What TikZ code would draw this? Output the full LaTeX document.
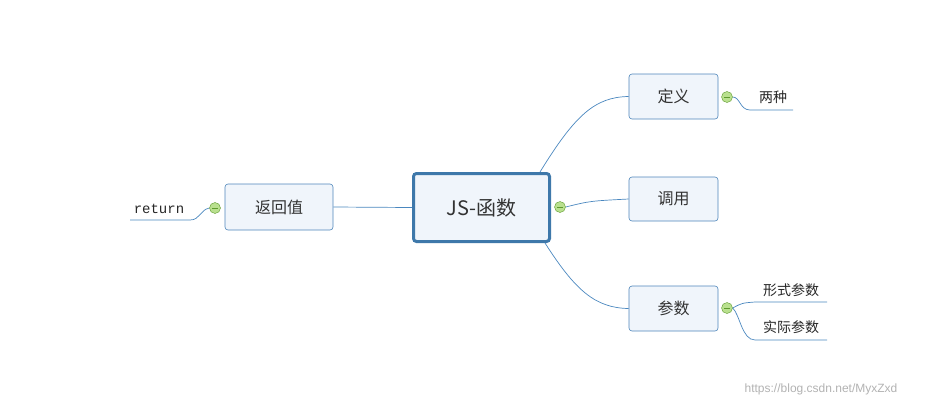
\documentclass[tikz,border=0pt]{standalone}
\usepackage{fontspec}
\setmainfont{Noto Sans CJK SC}
\newfontfamily\monof{Liberation Mono}
\newfontfamily\wmf{Liberation Sans}
\definecolor{bord}{HTML}{4F86BA}
\definecolor{cbord}{HTML}{3E78AA}
\definecolor{bfill}{HTML}{F0F5FB}
\definecolor{lnk}{HTML}{4A87BF}
\definecolor{mg}{HTML}{5E9A2E}
\definecolor{mf}{HTML}{B9E08E}
\begin{document}
\begin{tikzpicture}[x=1pt,y=-1pt,
  box/.style={draw=bord,fill=bfill,rounded corners=3pt,line width=0.6pt,font=\fontsize{16}{18}\selectfont,text=black!80},
  link/.style={draw=lnk,line width=0.7pt},
  minus/.style={circle,draw=mg,fill=mf,inner sep=0pt,minimum size=11pt,path picture={\draw[line width=0.7pt] ([xshift=-3pt]path picture bounding box.center)--([xshift=3pt]path picture bounding box.center);}},
  leaf/.style={font=\fontsize{14}{16}\selectfont,text=black!85}]
\useasboundingbox (0,0) rectangle (925,410);
\node[box,draw=cbord,line width=3pt,minimum width=136pt,minimum height=68pt,font=\fontsize{20}{22}\selectfont] (c) at (481.5,207.5) {JS-函数};
\node[box,minimum width=89pt,minimum height=45pt] (d) at (673.5,96.5) {定义};
\node[box,minimum width=89pt,minimum height=44pt] (u) at (673.5,199) {调用};
\node[box,minimum width=89pt,minimum height=45pt] (p) at (673.5,308.5) {参数};
\node[box,minimum width=108pt,minimum height=46pt] (r) at (279,207) {返回值};
\node[minus] (mc) at (560,207) {};
\node[minus] (md) at (727,97) {};
\node[minus] (mp) at (727,308) {};
\node[minus] (mr) at (215,208) {};
\coordinate (ct) at (540,172);
\coordinate (cb) at (545,243);
\draw[link] (ct) .. controls (575,115) and (595,97) .. (d.west);
\draw[link] (mc.east) .. controls (590,201) .. (u.west);
\draw[link] (cb) .. controls (575,290) and (595,308) .. (p.west);
\draw[link] (r.east) -- (c.west);
\node[leaf] (l1) at (773,97) {两种};
\coordinate (l1a) at (750,110); \coordinate (l1b) at (793,110);
\draw[link] (md.east) .. controls (740,97) and (740,110) .. (l1a) -- (l1b);
\node[leaf] (l2) at (791,290) {形式参数};
\coordinate (l2a) at (755,302); \coordinate (l2b) at (827,302);
\draw[link] (mp.east) .. controls (742,303) .. (l2a) -- (l2b);
\node[leaf] (l3) at (791,327) {实际参数};
\coordinate (l3a) at (755,340); \coordinate (l3b) at (827,340);
\draw[link] (mp.east) .. controls (740,315) and (742,340) .. (l3a) -- (l3b);
\node[leaf,font=\monof\fontsize{14}{16}\selectfont] (ret) at (159,209) {return};
\coordinate (ra) at (190,220); \coordinate (rb) at (130,220);
\draw[link] (mr.west) .. controls (200,210) and (200,220) .. (ra) -- (rb);
\node[font=\wmf\fontsize{12}{14}\selectfont,text=black!30] (wm) at (821,389) {https://blog.csdn.net/MyxZxd};
\end{tikzpicture}
\end{document}
